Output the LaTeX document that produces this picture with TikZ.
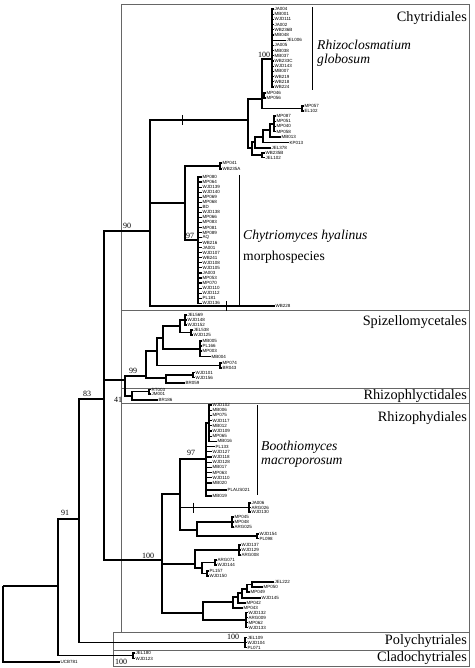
\documentclass[tikz,border=0pt]{standalone}
\usepackage{fontspec}
\setmainfont{Liberation Serif}
\setsansfont{Liberation Sans}
\usetikzlibrary{positioning}
\newcommand\leaffont{\sffamily\fontsize{4.5}{5}\selectfont}
\tikzset{
  br/.style={line width=1.15pt},
  leaf/.style={anchor=west,inner sep=0.4pt,font=\leaffont},
  support/.style={inner sep=0pt,font=\fontsize{8}{8}\selectfont},
  ordername/.style={anchor=east,inner sep=0pt,font=\fontsize{14.3}{15}\selectfont},
  taxon/.style={anchor=west,align=left,inner sep=0pt,font=\fontsize{13.6}{13.8}\selectfont\itshape},
  orderbox/.style={draw=black!60,line width=0.7pt},
  cladebar/.style={line width=0.9pt},
  tickmark/.style={line width=0.5pt},
}

\begin{document}
\begin{tikzpicture}[x=1pt,y=-1pt]
\useasboundingbox (0,0) rectangle (474,668);
% order boxes
\draw[orderbox] (121,4) rectangle (469,310);
\draw[orderbox] (121,310) rectangle (469,388);
\draw[orderbox] (121,388) rectangle (469,403);
\draw[orderbox] (121,403) rectangle (469,632);
\draw[orderbox] (113,632) rectangle (469,650);
\draw[orderbox] (113,650) rectangle (469,666);
\node[ordername] (chytridiales) at (467,18) {Chytridiales};
\node[ordername] (spizello) at (467,322) {Spizellomycetales};
\node[ordername] (rhizophlyct) at (467,396) {Rhizophlyctidales};
\node[ordername] (rhizophyd) at (467,418) {Rhizophydiales};
\node[ordername] (polych) at (467,641) {Polychytriales};
\node[ordername] (cladoch) at (467,658) {Cladochytriales};
% clade bars
\draw[cladebar] (312,7) -- (312,90);
\node[taxon] (rhizoclos) at (317,53) {Rhizoclosmatium\\globosum};
\draw[cladebar] (239,175) -- (239,305);
\node[taxon] (chytrio) at (243,246.5) {Chytriomyces hyalinus\\[7pt]\upshape morphospecies};
\draw[cladebar] (257,405) -- (257,495);
\node[taxon] (boothio) at (261,454.5) {Boothiomyces\\macroporosum};

% backbone
\coordinate (root) at (3,586);
\coordinate (n58) at (58,586);
\coordinate (n79) at (79,519);
\coordinate (n104) at (104,399);
\coordinate (n125) at (125,380);
\node[leaf] (ucb781) at (60,662) {UCB781};
\draw[br] (root) |- (ucb781.west);
\draw[br] (root) -- (n58);
\draw[br] (n58) |- (n79);
\draw[br] (n79) |- (n104);
\draw[br] (n104) |- (n125);
\node[support] at (65,513) {91};
\node[support] at (87,394) {83};
\node[support] at (118,400) {41};

% Cladochytriales
\coordinate (cla) at (133,655.5);
\draw[br] (n58) |- (cla);
\foreach \t/\y in {JEL180/653,WJD123/658.5} {
  \node[leaf] (cl-\t) at (135,\y) {\t};
  \draw[br] (cla) |- (cl-\t.west);
}
\node[support] at (121,662) {100};

% Polychytriales
\coordinate (pol) at (245,642.5);
\draw[br] (n79) |- (pol);
\foreach \t/\y in {JEL109/637.5,WJD104/642.5,PL071/647.5} {
  \node[leaf] (po-\t) at (247,\y) {\t};
  \draw[br] (pol) |- (po-\t.west);
}
\node[support] at (233,637) {100};

% Chytridiales
\coordinate (c0) at (150,231);
\coordinate (ca) at (248,120);
\coordinate (cx) at (185,203);
\coordinate (cr) at (262,99);
\coordinate (crh) at (272,59);
\coordinate (c46) at (264,95.5);
\coordinate (c57) at (302,108.5);
\coordinate (p6) at (252,148);
\coordinate (p4) at (255,142);
\coordinate (p3) at (263,137);
\coordinate (p2) at (270,130);
\coordinate (p1) at (274,124);
\coordinate (p5) at (262,155);
\coordinate (c41) at (220,166);
\coordinate (chy) at (198,240);
\draw[br] (n104) |- (c0);
\draw[br] (c0) |- (ca);
\draw[br] (c0) |- (cx);
\node[leaf] (wb228) at (275,306) {WB228};
\draw[br] (c0) |- (wb228.west);
\draw[tickmark] (182,115) -- (182,125);
\draw[tickmark] (226,301) -- (226,311);
\node[support] at (127,226) {90};
\draw[br] (cx) |- (c41);
\draw[br] (cx) |- (chy);
\draw[br] (ca) |- (cr);
\draw[br] (ca) |- (p6);
\draw[br] (cr) |- (crh);
\draw[br] (cr) |- (c46);
\draw[br] (cr) |- (c57);
\node[support] at (264,55) {100};
\foreach \t/\y in {JA004/9,MB001/14.2,WJD111/19.4,JA002/24.6,WB236B/29.8,MB048/35,JA005/45.4,MB038/50.6,MB037/55.8,WB233C/61,WJD143/66.2,MB007/71.4,WB219/76.6,WB218/81.8,WB224/87} {
  \node[leaf] (rh-\t) at (274,\y) {\t};
  \draw[br] (crh) |- (rh-\t.west);
}
\node[leaf] (rh-JEL006) at (286,40.2) {JEL006};
\draw[br] (crh) |- (rh-JEL006.west);
\foreach \t/\y in {MP046/93,MP056/98} {
  \node[leaf] (rh-\t) at (266,\y) {\t};
  \draw[br] (c46) |- (rh-\t.west);
}
\foreach \t/\y in {MP057/106,EL102/111} {
  \node[leaf] (rh-\t) at (304,\y) {\t};
  \draw[br] (c57) |- (rh-\t.west);
}
\draw[br] (p6) |- (p4);
\draw[br] (p6) |- (p5);
\draw[br] (p4) |- (p3);
\draw[br] (p3) |- (p2);
\draw[br] (p2) |- (p1);
\foreach \t/\y in {MP087/116,MP051/121.2,MP040/126.4,MP058/131.6} {
  \node[leaf] (pe-\t) at (276,\y) {\t};
  \draw[br] (p1) |- (pe-\t.west);
}
\node[leaf] (pe-MB013) at (281,137) {MB013};
\draw[br] (p2) |- (pe-MB013.west);
\node[leaf] (pe-KP013) at (289,142.5) {KP013};
\draw[br] (p3) |- (pe-KP013.west);
\node[leaf] (pe-JEL378) at (271,148) {JEL378};
\draw[br] (p4) |- (pe-JEL378.west);
\foreach \t/\y in {WB235B/153,JEL102/157.6} {
  \node[leaf] (pe-\t) at (265,\y) {\t};
  \draw[br] (p5) |- (pe-\t.west);
}
\foreach \t/\y in {MP041/163,WB235A/169} {
  \node[leaf] (cm-\t) at (222,\y) {\t};
  \draw[br] (c41) |- (cm-\t.west);
}
\foreach \t [count=\i from 0] in {MP080,MP064,WJD139,WJD140,MP069,MP068,BD,WJD138,MP066,MP083,MP081,MP089,AQ,WB216,JA001,WJD107,WB241,WJD108,WJD105,JA003,MP053,MP070,WJD110,WJD112,PL181,WJD136} {
  \node[leaf] (ch-\t) at (202,{177+5.05*\i}) {\t};
  \draw[br] (chy) |- (ch-\t.west);
}
\node[support] at (190,236) {97};

% Spizellomycetales
\coordinate (s0) at (146,376);
\coordinate (sc) at (157,351);
\coordinate (sb) at (163,338);
\coordinate (sa) at (180,326);
\coordinate (sf1) at (185,320);
\coordinate (sf2) at (191,332.5);
\coordinate (smb) at (200,349);
\coordinate (s74) at (220,365.5);
\coordinate (sd) at (166,378);
\coordinate (s101) at (193,375);
\draw[br] (n125) |- (s0);
\draw[br] (s0) |- (sc);
\draw[br] (s0) |- (sd);
\draw[br] (sc) |- (sb);
\draw[br] (sc) |- (s74);
\draw[br] (sb) |- (sa);
\draw[br] (sb) |- (smb);
\draw[br] (sa) |- (sf1);
\draw[br] (sa) |- (sf2);
\draw[br] (sd) |- (s101);
\node[support] at (133,371) {99};
\foreach \t/\y in {JEL569/315,WJD148/320,WJD152/325} {
  \node[leaf] (sp-\t) at (187,\y) {\t};
  \draw[br] (sf1) |- (sp-\t.west);
}
\foreach \t/\y in {JEL538/330,WJD125/335} {
  \node[leaf] (sp-\t) at (193,\y) {\t};
  \draw[br] (sf2) |- (sp-\t.west);
}
\foreach \t/\y in {MB005/341,PL166/346,MP003/351} {
  \node[leaf] (sp-\t) at (202,\y) {\t};
  \draw[br] (smb) |- (sp-\t.west);
}
\node[leaf] (sp-MB004) at (211,356.5) {MB004};
\draw[br] (smb) |- (sp-MB004.west);
\foreach \t/\y in {MP074/363,BR043/368} {
  \node[leaf] (sp-\t) at (222,\y) {\t};
  \draw[br] (s74) |- (sp-\t.west);
}
\foreach \t/\y in {WJD101/372.5,WJD156/377.5} {
  \node[leaf] (sp-\t) at (195,\y) {\t};
  \draw[br] (s101) |- (sp-\t.west);
}
\node[leaf] (sp-BR059) at (185,383) {BR059};
\draw[br] (sd) |- (sp-BR059.west);

% Rhizophlyctidales
\coordinate (rp) at (132,396);
\coordinate (rpf) at (149,391.5);
\draw[br] (n125) |- (rp);
\draw[br] (rp) |- (rpf);
\foreach \t/\y in {RT003/389.5,JM001/394} {
  \node[leaf] (rl-\t) at (151,\y) {\t};
  \draw[br] (rpf) |- (rl-\t.west);
}
\node[leaf] (rl-BR186) at (158,400) {BR186};
\draw[br] (rp) |- (rl-BR186.west);

% Rhizophydiales
\coordinate (rz) at (162,560);
\coordinate (r180) at (180,494);
\coordinate (boo) at (206,459);
\coordinate (boos) at (209,423);
\coordinate (r197) at (197,530);
\coordinate (rja) at (249,507.5);
\coordinate (r45) at (232,522);
\coordinate (r154) at (257,536);
\coordinate (r195) at (195,564);
\coordinate (r137) at (239,550);
\coordinate (r202) at (202,568);
\coordinate (r71) at (215,562.5);
\coordinate (r157) at (207,573.5);
\coordinate (r203) at (203,613);
\coordinate (m5) at (233,602);
\coordinate (m4) at (238,597);
\coordinate (m3) at (242,593);
\coordinate (m2) at (247,589);
\coordinate (m1) at (252,584.5);
\coordinate (rbc) at (246,620);
\draw[br] (n104) |- (rz);
\draw[br] (rz) |- (r180);
\draw[br] (rz) |- (r195);
\draw[br] (rz) |- (r203);
\draw[br] (r180) |- (boo);
\draw[br] (r180) |- (rja);
\draw[br] (r180) |- (r197);
\draw[br] (boo) |- (boos);
\draw[br] (r197) |- (r45);
\draw[br] (r197) |- (r154);
\draw[br] (r195) |- (r137);
\draw[br] (r195) |- (r202);
\draw[br] (r202) |- (r71);
\draw[br] (r202) |- (r157);
\draw[br] (r203) |- (m5);
\draw[br] (r203) |- (rbc);
\draw[br] (m5) |- (m4);
\draw[br] (m4) |- (m3);
\draw[br] (m3) |- (m2);
\draw[br] (m2) |- (m1);
\draw[tickmark] (193,502.5) -- (193,512.5);
\node[support] at (191,453) {97};
\node[support] at (148,556) {100};
\foreach \t/\y in {WJD102/405,MB006/410.2,MP075/415.4,WJD117/420.6,MB012/425.8,WJD109/431,MP065/436.2} {
  \node[leaf] (bo-\t) at (212,\y) {\t};
  \draw[br] (boos) |- (bo-\t.west);
}
\node[leaf] (bo-MB016) at (217,441.4) {MB016};
\draw[br] (boos) |- (bo-MB016.west);
\node[leaf] (bo-PL133) at (215,446.6) {PL133};
\draw[br] (boo) |- (bo-PL133.west);
\foreach \t/\y in {WJD127/451.8,WJD118/457,WJD128/462.2,MB017/467.4,MP063/472.6,WJD110/477.8,MB020/483,MB019/496} {
  \node[leaf] (bo-\t) at (212,\y) {\t};
  \draw[br] (boo) |- (bo-\t.west);
}
\node[leaf] (bo-PLAUS021) at (227,490) {PLAUS021};
\draw[br] (boo) |- (bo-PLAUS021.west);
\foreach \t/\y in {JA006/503,ARG026/507.5,WJD130/512} {
  \node[leaf] (rd-\t) at (251,\y) {\t};
  \draw[br] (rja) |- (rd-\t.west);
}
\foreach \t/\y in {MP045/517,MP048/522,ARG025/527} {
  \node[leaf] (rd-\t) at (234,\y) {\t};
  \draw[br] (r45) |- (rd-\t.west);
}
\foreach \t/\y in {WJD154/534,PL098/538.5} {
  \node[leaf] (rd-\t) at (259,\y) {\t};
  \draw[br] (r154) |- (rd-\t.west);
}
\foreach \t/\y in {WJD137/545,WJD129/550,ARG008/555} {
  \node[leaf] (rd-\t) at (241,\y) {\t};
  \draw[br] (r137) |- (rd-\t.west);
}
\foreach \t/\y in {ARG071/560,WJD144/565} {
  \node[leaf] (rd-\t) at (217,\y) {\t};
  \draw[br] (r71) |- (rd-\t.west);
}
\foreach \t/\y in {PL157/571,WJD150/576} {
  \node[leaf] (rd-\t) at (209,\y) {\t};
  \draw[br] (r157) |- (rd-\t.west);
}
\node[leaf] (rd-JEL222) at (274,582) {JEL222};
\draw[br] (m1) |- (rd-JEL222.west);
\node[leaf] (rd-MP050) at (263,587) {MP050};
\draw[br] (m1) |- (rd-MP050.west);
\node[leaf] (rd-MP049) at (250,592) {MP049};
\draw[br] (m2) |- (rd-MP049.west);
\node[leaf] (rd-WJD145) at (261,598) {WJD145};
\draw[br] (m3) |- (rd-WJD145.west);
\node[leaf] (rd-MP042) at (246,603) {MP042};
\draw[br] (m4) |- (rd-MP042.west);
\node[leaf] (rd-MP043) at (243,608) {MP043};
\draw[br] (m5) |- (rd-MP043.west);
\foreach \t/\y in {WJD132/612.5,ARG009/617.5,MP062/622.5,WJD133/627.5} {
  \node[leaf] (rd-\t) at (248,\y) {\t};
  \draw[br] (rbc) |- (rd-\t.west);
}
\end{tikzpicture}
\end{document}
